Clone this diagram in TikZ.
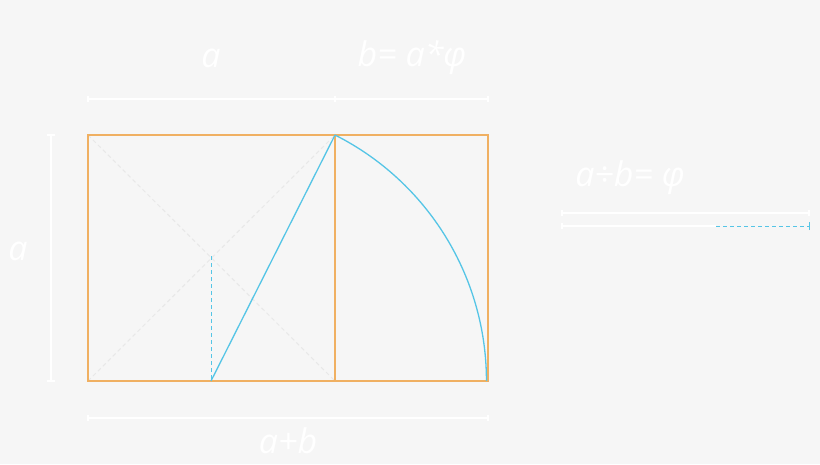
\documentclass[tikz,border=0pt]{standalone}
\usepackage{fontspec}
\setmainfont{Open Sans}
\definecolor{bg}{HTML}{F6F6F6}
\definecolor{org}{HTML}{F0B062}
\definecolor{blu}{HTML}{55C5E6}
\definecolor{faint}{HTML}{E8E8E8}
\tikzset{
  frame/.style={draw=org, line width=1.4pt},
  bluel/.style={draw=blu, line width=1.3pt},
  dimw/.style={draw=white, line width=1.3pt},
  diag/.style={draw=faint, line width=1pt, dash pattern=on 4pt off 3pt},
  lbl/.style={text=white, font=\fontsize{34}{36}\selectfont\itshape, inner sep=0pt},
}
\begin{document}
\begin{tikzpicture}[x=1pt,y=-1pt]
\fill[bg] (0,0) rectangle (820,464);
\useasboundingbox (0,0) rectangle (820,464);
% corner coordinates
\coordinate (TL) at (88,135);
\coordinate (TM) at (335,135);
\coordinate (TR) at (488,135);
\coordinate (BL) at (88,381);
\coordinate (BM) at (335,381);
\coordinate (BR) at (488,381);
\coordinate (HM) at (211,381);
\coordinate (C) at (211,256);
% faint diagonals
\draw[diag] (TL) -- (BM);
\draw[diag] (BL) -- (TM);
% rectangles
\draw[frame] (TL) rectangle (BR);
\draw[frame] (TM) -- (BM);
% blue construction
\draw[bluel, line width=1pt, dash pattern=on 4pt off 3pt] (C) -- (HM);
\draw[bluel] (HM) -- (TM);
\draw[bluel] (TM) arc[start angle={atan2(-246,124)}, end angle=0, radius=275.4];
% top dimension
\coordinate (d1) at (88,99); \coordinate (d2) at (335,99); \coordinate (d3) at (488,99);
\draw[dimw] (d1) -- (d3);
\foreach \p in {d1,d2,d3} \draw[dimw] ([yshift=-3]\p) -- ([yshift=3]\p);
% left dimension
\coordinate (l1) at (51,135); \coordinate (l2) at (51,381);
\draw[dimw] (l1) -- (l2);
\foreach \p in {l1,l2} \draw[dimw] ([xshift=-4]\p) -- ([xshift=4]\p);
% bottom dimension
\coordinate (b1) at (88,418); \coordinate (b2) at (488,418);
\draw[dimw] (b1) -- (b2);
\foreach \p in {b1,b2} \draw[dimw] ([yshift=-3]\p) -- ([yshift=3]\p);
% right ratio lines
\coordinate (r1) at (562,213); \coordinate (r2) at (809,213);
\coordinate (s1) at (562,226); \coordinate (s2) at (716,226); \coordinate (s3) at (809,226);
\draw[dimw] (r1) -- (r2);
\foreach \p in {r1,r2} \draw[dimw] ([yshift=-3]\p) -- ([yshift=3]\p);
\draw[dimw] (s1) -- (s2);
\draw[dimw] ([yshift=-3]s1) -- ([yshift=3]s1);
\draw[bluel, line width=1pt, dash pattern=on 4pt off 3pt] (s2) -- (s3);
\draw[bluel, line width=1pt] ([yshift=-4]s3) -- ([yshift=4]s3);
% labels
\node[lbl] (la) at (211,58) {a};
\node[lbl] (lb) at (412,58) {b= a*φ};
\node[lbl] (ll) at (18,251) {a};
\node[lbl] (lab) at (288,441) {a+b};
\node[lbl] (lr) at (630,178) {a÷b= φ};
\end{tikzpicture}
\end{document}
